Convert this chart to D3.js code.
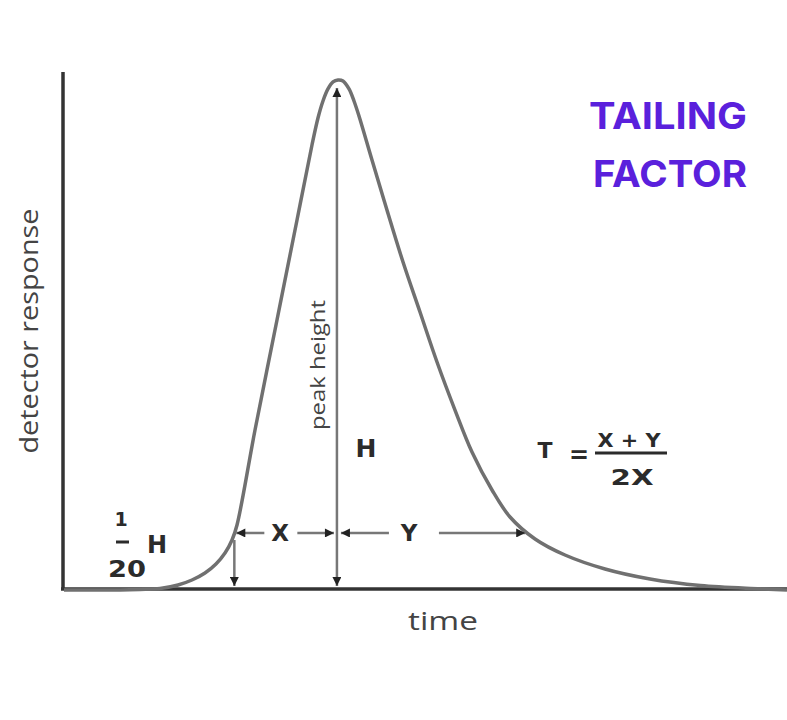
<!DOCTYPE html>
<html>
<head>
<meta charset="utf-8">
<script src="https://cdn.jsdelivr.net/npm/d3@7"></script>
<style>
  body { margin: 0; background: #fff; }
  svg { display: block; }
</style>
</head>
<body>
<svg id="chart" width="787" height="720"></svg>
<script>
// peak profile (time 0-100, response as % of H)
const time = [0, 7.75, 10.51, 13.28, 15.77, 17.70, 19.50, 21.02, 22.27, 23.24, 23.93, 26.42, 29.46, 32.23,
  34.30, 35.13, 35.82, 36.51, 37.21, 37.90, 38.59, 39.42, 40.11, 40.80, 42.60, 44.67, 46.89, 49.24,
  51.59, 54.08, 56.43, 59.20, 61.69, 65.15, 69.29, 74.83, 81.05, 88.04, 96.27, 100];
const response = [0, 0, 0.10, 0.29, 0.98, 1.96, 3.33, 5.10, 7.25, 9.80, 12.75, 31.37, 52.94, 72.55,
  87.25, 92.55, 95.88, 98.24, 99.61, 100, 99.80, 98.24, 95.88, 92.94, 84.31, 74.51, 64.31, 54.51,
  44.71, 35.29, 27.06, 19.61, 14.31, 10.00, 6.86, 4.12, 2.16, 0.88, 0.24, 0];

// measurement points
const peakTime = 37.75;
const leftTime = 23.56;   // front edge at the measuring height
const rightTime = 64.2;   // tail edge at the measuring height
const levelResp = 11.18;  // the "1/20 H" level as drawn

const svg = d3.select('#chart');

const x = d3.scaleLinear().domain([0, 100]).range([64, 787]);
const y = d3.scaleLinear().domain([0, 100]).range([590, 80]);

const defs = svg.append('defs');
defs.append('marker').attr('id', 'ah')
  .attr('viewBox', '0 0 10 10').attr('refX', 10).attr('refY', 5)
  .attr('markerWidth', 12).attr('markerHeight', 9).attr('markerUnits', 'userSpaceOnUse')
  .attr('orient', 'auto-start-reverse')
  .append('path').attr('d', 'M0,0 L10,5 L0,10 Z').attr('fill', '#222');

// axes (plain lines, no ticks)
svg.append('line').attr('x1', x(0) - 1).attr('x2', x(0) - 1).attr('y1', 72).attr('y2', y(0))
  .attr('stroke', '#333').attr('stroke-width', 3.5);
svg.append('line').attr('x1', x(0) - 3).attr('x2', x(100)).attr('y1', y(0) - 1).attr('y2', y(0) - 1)
  .attr('stroke', '#333').attr('stroke-width', 3.5);

// peak curve
const line = d3.line().x((d, i) => x(time[i])).y(d => y(d)).curve(d3.curveCatmullRom.alpha(0.5));
svg.append('path').datum(response).attr('d', line)
  .attr('fill', 'none').attr('stroke', '#707070').attr('stroke-width', 3.5);

// arrows
const arrow = (x1, y1, x2, y2, both) => {
  const l = svg.append('line').attr('x1', x1).attr('y1', y1).attr('x2', x2).attr('y2', y2)
    .attr('stroke', '#777').attr('stroke-width', 2.5)
    .attr('marker-end', 'url(#ah)');
  if (both) l.attr('marker-start', 'url(#ah)');
  return l;
};

// peak height arrow
arrow(x(peakTime), y(0) - 4, x(peakTime), y(100) + 8, true);
// small drop arrow at front edge
arrow(x(leftTime), y(levelResp) + 7, x(leftTime), y(0) - 4);

const ay = y(levelResp);
// X arrows
arrow(x(leftTime) + 30, ay, x(leftTime) + 2, ay);
arrow(x(leftTime) + 63, ay, x(peakTime) - 3, ay);
// Y arrows
arrow(x(peakTime) + 52, ay, x(peakTime) + 4, ay);
arrow(x(peakTime) + 102, ay, x(rightTime) - 3, ay);

const bold = 'DejaVu Sans, Verdana, sans-serif';
const lab = (tx, ty, s, size, opts = {}) => {
  const t = svg.append('text')
    .attr('x', tx).attr('y', ty).text(s)
    .attr('font-family', opts.family || bold)
    .attr('font-size', size)
    .attr('font-weight', opts.weight || 'bold')
    .attr('fill', opts.fill || '#2b2b2b')
    .attr('text-anchor', opts.anchor || 'middle');
  if (opts.len) t.attr('textLength', opts.len).attr('lengthAdjust', 'spacingAndGlyphs');
  return t;
};

lab(280, ay + 8, 'X', 23);
lab(409, ay + 8, 'Y', 23);
lab(366, 457, 'H', 25);

// 1/20 H
lab(121, 526, '1', 19);
svg.append('line').attr('x1', 116).attr('x2', 129).attr('y1', 542).attr('y2', 542)
  .attr('stroke', '#2b2b2b').attr('stroke-width', 3);
lab(157, 553, 'H', 24);
lab(127, 577, '20', 23, { len: 38 });

// formula
lab(545, 458, 'T', 22);
lab(579, 463, '=', 24);
svg.append('line').attr('x1', 595).attr('x2', 667).attr('y1', 453).attr('y2', 453)
  .attr('stroke', '#2b2b2b').attr('stroke-width', 3);
lab(629, 447, 'X + Y', 20, { len: 63 });
lab(632, 485, '2X', 21, { len: 43 });

// axis titles
svg.append('text').attr('transform', 'translate(38,331) rotate(-90)')
  .attr('text-anchor', 'middle').attr('font-family', 'Open Sans, sans-serif')
  .attr('font-size', 26).attr('fill', '#444').attr('textLength', 245)
  .attr('lengthAdjust', 'spacingAndGlyphs').text('detector response');
svg.append('text').attr('transform', `translate(${x(peakTime) - 12},365) rotate(-90)`)
  .attr('text-anchor', 'middle').attr('font-family', 'Open Sans, sans-serif')
  .attr('font-size', 20).attr('fill', '#444').attr('textLength', 130)
  .attr('lengthAdjust', 'spacingAndGlyphs').text('peak height');
lab(443, 630, 'time', 25, { family: 'Open Sans, sans-serif', weight: 'normal', fill: '#444', len: 70 });

// title
lab(747, 129, 'TAILING', 37, { family: 'Inter, Liberation Sans, sans-serif', anchor: 'end', fill: '#5a20dc', len: 158 });
lab(747, 187, 'FACTOR', 37, { family: 'Inter, Liberation Sans, sans-serif', anchor: 'end', fill: '#5a20dc', len: 154 });
</script>
</body>
</html>
